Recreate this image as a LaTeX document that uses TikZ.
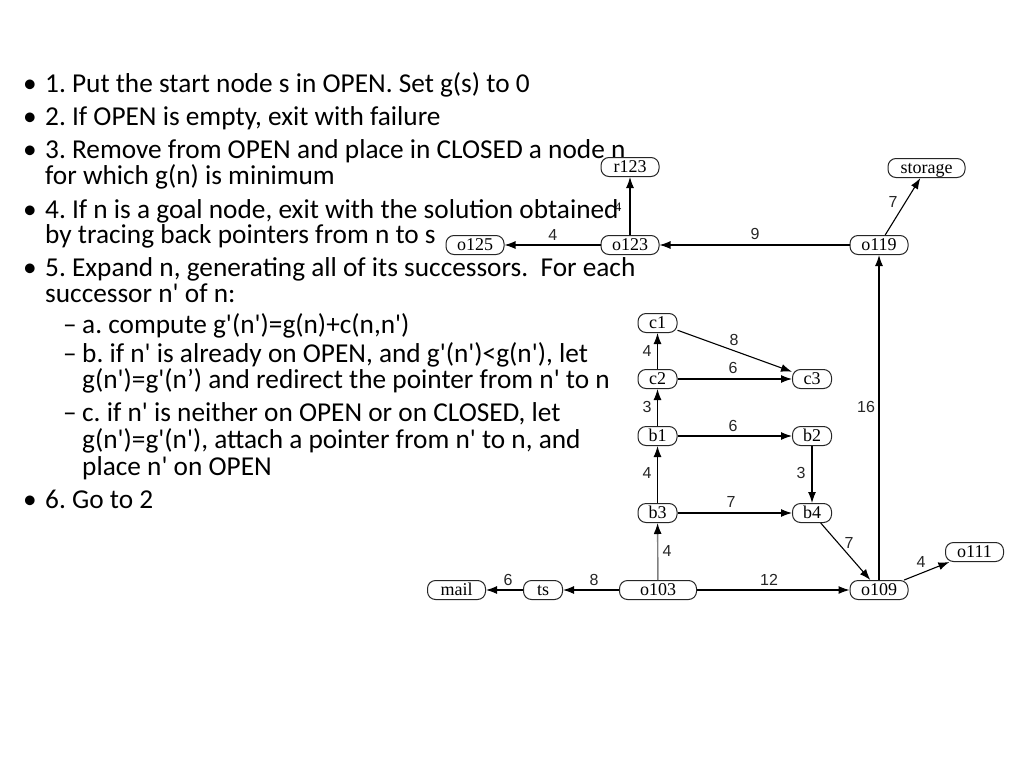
\documentclass[tikz,border=0pt]{standalone}
\usepackage{fontspec}
\usetikzlibrary{arrows.meta}
\newfontfamily\txt{Carlito}
\newfontfamily\ser{Liberation Serif}
\newfontfamily\lab{Liberation Sans}
\frenchspacing
\tikzset{
  nd/.style={draw=black!85, line width=1pt, rounded corners=8pt, minimum height=19pt, inner sep=0pt, text height=12pt, text depth=0.5pt, font=\ser\fontsize{18}{18}\selectfont},
  sm/.style={nd, minimum width=39pt},
  md/.style={nd, minimum width=58pt},
  lg/.style={nd, minimum width=77pt},
  edge/.style={line width=1.1pt, -{Latex[length=11pt,width=8pt,color=black]}},
  lbl/.style={font=\lab\fontsize{16}{16}\selectfont, text=black!85, inner sep=0pt},
  tx/.style={anchor=base west, inner sep=0pt, font=\txt\fontsize{27.3}{27.3}\selectfont\frenchspacing},
  bul/.style={anchor=base, inner sep=0pt, font=\txt\fontsize{27.3}{27.3}\selectfont}
}
\begin{document}
\begin{tikzpicture}[x=1pt,y=-1pt]
\useasboundingbox[fill=white] (0,0) rectangle (1024,768);
% text
\node[bul] (u1) at (30,92) {•};
\node[tx] (t1) at (45,92) {1. Put the start node s in OPEN. Set g(s) to 0};
\node[bul] (u2) at (30,125) {•};
\node[tx] (t2) at (45,125) {2. If OPEN is empty, exit with failure};
\node[bul] (u3) at (30,158) {•};
\node[tx] (t3) at (45,158) {3. Remove from OPEN and place in CLOSED a node n};
\node[tx] (t3b) at (45,184) {for which g(n) is minimum};
\node[bul] (u4) at (30,218) {•};
\node[tx] (t4) at (45,218) {4. If n is a goal node, exit with the solution obtained};
\node[tx] (t4b) at (45,243) {by tracing back pointers from n to s};
\node[bul] (u5) at (30,276) {•};
\node[tx] (t5) at (45,276) {5. Expand n, generating all of its successors.\ \ For each};
\node[tx] (t5b) at (45,302) {successor n' of n:};
\node[bul] (d1) at (70,333) {–};
\node[tx] (ta) at (82,333) {a. compute g'(n')=g(n)+c(n,n')};
\node[bul] (d2) at (70,362) {–};
\node[tx] (tb) at (82,362) {b. if n' is already on OPEN, and g'(n')<g(n'), let};
\node[tx] (tbb) at (82,388) {g(n')=g'(n’) and redirect the pointer from n' to n};
\node[bul] (d3) at (70,421) {–};
\node[tx] (tc) at (82,421) {c. if n' is neither on OPEN or on CLOSED, let};
\node[tx] (tcb) at (82,448) {g(n')=g'(n'), attach a pointer from n' to n, and};
\node[tx] (tcc) at (82,475) {place n' on OPEN};
\node[bul] (u6) at (30,508) {•};
\node[tx] (t6) at (45,508) {6. Go to 2};
% graph nodes
\node[md] (r123) at (630,167) {r123};
\node[lg] (storage) at (926.5,168) {storage};
\node[md] (o125) at (475,245) {o125};
\node[md] (o123) at (630,245) {o123};
\node[md] (o119) at (879,245) {o119};
\node[sm] (c1) at (657.5,323) {c1};
\node[sm] (c2) at (657.5,379) {c2};
\node[sm] (c3) at (812,379) {c3};
\node[sm] (b1) at (657.5,436) {b1};
\node[sm] (b2) at (812,436) {b2};
\node[sm] (b3) at (657.5,513) {b3};
\node[sm] (b4) at (812,513) {b4};
\node[md] (mail) at (456.5,590) {mail};
\node[sm] (ts) at (543,590) {ts};
\node[lg] (o103) at (658,590) {o103};
\node[md] (o109) at (879,590) {o109};
\node[md] (o111) at (974.5,552) {o111};
% edges
\draw[edge] (o123) -- (r123) node[font=\ser\fontsize{13}{13}\selectfont, inner sep=0pt] at (618,207) {4};
\draw[edge] (o123) -- (o125) node[lbl] at (552.7,235) {4};
\draw[edge] (o119) -- (o123) node[lbl] at (755,234) {9};
\draw[edge] (o119) -- (storage) node[lbl] at (893,202) {7};
\draw[edge] (o109) -- (o119) node[lbl] at (866,407) {16};
\draw[edge] (c1) -- (c3) node[lbl] at (734,340) {8};
\draw[edge] (c2) -- (c3) node[lbl] at (733,368) {6};
\draw[edge] (c2) -- (c1) node[lbl] at (647,351) {4};
\draw[edge] (b1) -- (c2) node[lbl] at (647,407) {3};
\draw[edge] (b1) -- (b2) node[lbl] at (733,426) {6};
\draw[edge] (b2) -- (b4) node[lbl] at (801,473) {3};
\draw[edge] (b3) -- (b1) node[lbl] at (647,473) {4};
\draw[edge] (b3) -- (b4) node[lbl] at (731,502) {7};
\draw[edge] (b4) -- (o109) node[lbl] at (849,543) {7};
\draw[edge, draw=black!50, line width=1.4pt] (o103) -- (b3) node[lbl] at (667,551) {4};
\draw[edge] (o103) -- (ts) node[lbl] at (594,580) {8};
\draw[edge] (ts) -- (mail) node[lbl] at (508,580) {6};
\draw[edge] (o103) -- (o109) node[lbl] at (769,580) {12};
\draw[edge] (o109) -- (o111) node[lbl] at (921,562) {4};
\end{tikzpicture}
\end{document}
